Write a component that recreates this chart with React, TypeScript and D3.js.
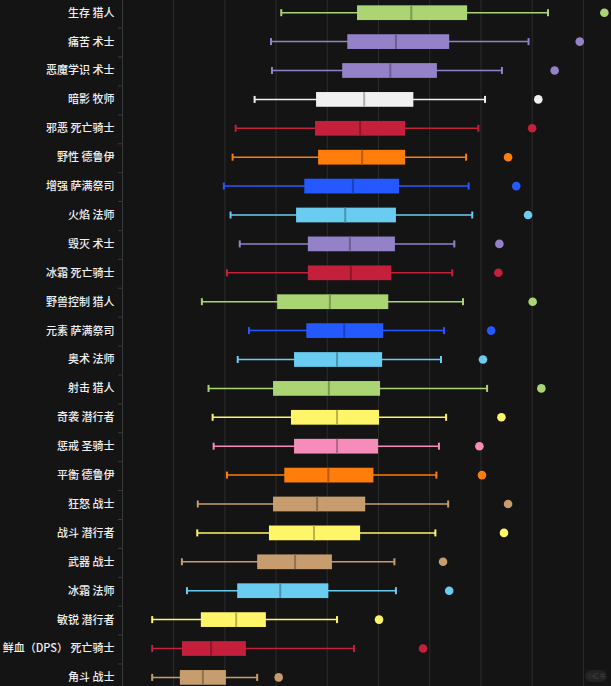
import React, { useEffect, useRef } from "react";
import * as d3 from "d3";

// 专精名称（从上到下）
const specs = [
  "生存 猎人", "痛苦 术士", "恶魔学识 术士", "暗影 牧师", "邪恶 死亡骑士", "野性 德鲁伊",
  "增强 萨满祭司", "火焰 法师", "毁灭 术士", "冰霜 死亡骑士", "野兽控制 猎人", "元素 萨满祭司",
  "奥术 法师", "射击 猎人", "奇袭 潜行者", "惩戒 圣骑士", "平衡 德鲁伊", "狂怒 战士",
  "战斗 潜行者", "武器 战士", "冰霜 法师", "敏锐 潜行者", "鲜血（DPS） 死亡骑士", "角斗 战士",
];

const classes = [
  "hunter", "warlock", "warlock", "priest", "dk", "druid",
  "shaman", "mage", "warlock", "dk", "hunter", "shaman",
  "mage", "hunter", "rogue", "paladin", "druid", "warrior",
  "rogue", "warrior", "mage", "rogue", "dk", "warrior",
];

const low = [31.0, 29.0, 29.2, 25.8, 22.1, 21.5, 19.8, 21.1, 22.9, 20.4, 15.5, 24.7, 22.5, 16.8, 17.6, 17.8, 20.4, 14.7, 14.6, 11.6, 12.6, 5.8, 5.8, 5.8];
const q1 = [45.8, 43.9, 42.9, 37.8, 37.6, 38.2, 35.5, 33.9, 36.2, 36.2, 30.2, 35.9, 33.5, 29.4, 32.9, 33.5, 31.6, 29.4, 28.6, 26.3, 22.4, 15.3, 11.6, 11.2];
const median = [56.4, 53.4, 52.3, 47.2, 46.4, 46.8, 45.0, 43.5, 44.4, 44.6, 40.5, 43.3, 41.9, 40.3, 41.9, 41.9, 40.2, 38.0, 37.4, 33.7, 30.8, 22.2, 17.3, 15.7];
const q3 = [67.3, 63.8, 61.4, 56.8, 55.2, 55.2, 54.0, 53.4, 53.2, 52.5, 51.9, 50.9, 50.7, 50.3, 50.1, 49.9, 49.0, 47.4, 46.4, 40.9, 40.2, 28.0, 24.1, 20.2];
const high = [83.1, 79.3, 74.1, 70.8, 69.5, 67.1, 67.6, 68.3, 64.8, 64.4, 66.5, 62.8, 62.2, 71.2, 63.2, 61.8, 61.3, 63.6, 61.1, 53.1, 53.4, 41.9, 45.2, 26.3];
const outlier = [94.1, 89.3, 84.4, 81.2, 80.0, 75.3, 76.9, 79.2, 73.6, 73.4, 80.1, 72.0, 70.4, 81.8, 74.0, 69.7, 70.2, 75.3, 74.5, 62.6, 63.8, 50.1, 58.7, 30.5];

const classColors: Record<string, string> = {
  hunter: "#abd473",
  warlock: "#9482c9",
  priest: "#f0f0f0",
  dk: "#c41f3b",
  druid: "#ff7d0a",
  shaman: "#2459ff",
  mage: "#69ccf0",
  rogue: "#fff569",
  paladin: "#f58cba",
  warrior: "#c79c6e",
};

const width = 611;
const height = 686;

export default function App() {
  const svgRef = useRef<SVGSVGElement | null>(null);

  useEffect(() => {
    if (!svgRef.current) return;
    document.body.style.margin = "0";
    document.body.style.background = "#141414";

    const svg = d3.select(svgRef.current);
    svg.selectAll("*").remove();
    svg.attr("width", width).attr("height", height).style("display", "block");

    svg.append("rect").attr("width", width).attr("height", height).attr("fill", "#141414");

    const x = d3.scaleLinear().domain([0, 95.4]).range([122.5, 611]);
    const y = d3.scaleBand<string>().domain(specs).range([-1.75, 691.85]);
    const boxH = y.bandwidth() * 0.51;

    // 网格线
    svg
      .append("g")
      .selectAll("line")
      .data(x.ticks(10).filter((t) => t > 0))
      .join("line")
      .attr("x1", (d) => x(d))
      .attr("x2", (d) => x(d))
      .attr("y1", 0)
      .attr("y2", height)
      .attr("stroke", "#2c2c2c")
      .attr("stroke-width", 1);

    // y轴
    const axis = svg.append("g");
    axis
      .append("line")
      .attr("x1", 122.5)
      .attr("x2", 122.5)
      .attr("y1", 0)
      .attr("y2", height)
      .attr("stroke", "#3a3a3a");
    axis
      .selectAll("line.tick")
      .data(specs)
      .join("line")
      .attr("class", "tick")
      .attr("x1", 118)
      .attr("x2", 122.5)
      .attr("y1", (d) => y(d)! + y.bandwidth() + 1)
      .attr("y2", (d) => y(d)! + y.bandwidth() + 1)
      .attr("stroke", "#3a3a3a");
    axis
      .selectAll("text")
      .data(specs)
      .join("text")
      .attr("x", 114.5)
      .attr("y", (d) => y(d)! + y.bandwidth() / 2)
      .attr("dy", "0.36em")
      .attr("text-anchor", "end")
      .attr("font-family", "'Noto Sans CJK SC', 'Noto Sans', sans-serif")
      .attr("font-size", 11)
      .attr("font-weight", 500)
      .attr("fill", "#f0f0f0")
      .text((d) => d);

    const rows = specs.map((s, i) => ({
      spec: s,
      color: classColors[classes[i]],
      low: low[i],
      q1: q1[i],
      median: median[i],
      q3: q3[i],
      high: high[i],
      outlier: outlier[i],
    }));

    const g = svg
      .append("g")
      .selectAll("g")
      .data(rows)
      .join("g")
      .attr("transform", (d) => `translate(0, ${y(d.spec)! + y.bandwidth() / 2})`);

    // 须线
    g.append("line")
      .attr("x1", (d) => x(d.low))
      .attr("x2", (d) => x(d.high))
      .attr("stroke", (d) => d.color)
      .attr("stroke-width", 1.5);
    g.append("line")
      .attr("x1", (d) => x(d.low))
      .attr("x2", (d) => x(d.low))
      .attr("y1", -3.5)
      .attr("y2", 3.5)
      .attr("stroke", (d) => d.color)
      .attr("stroke-width", 2);
    g.append("line")
      .attr("x1", (d) => x(d.high))
      .attr("x2", (d) => x(d.high))
      .attr("y1", -3.5)
      .attr("y2", 3.5)
      .attr("stroke", (d) => d.color)
      .attr("stroke-width", 2);

    // 箱体
    g.append("rect")
      .attr("x", (d) => x(d.q1))
      .attr("y", -boxH / 2)
      .attr("width", (d) => x(d.q3) - x(d.q1))
      .attr("height", boxH)
      .attr("fill", (d) => d.color);

    // 中位数
    g.append("line")
      .attr("x1", (d) => x(d.median))
      .attr("x2", (d) => x(d.median))
      .attr("y1", -boxH / 2)
      .attr("y2", boxH / 2)
      .attr("stroke", (d) => d3.color(d.color)!.darker(0.9).formatHex())
      .attr("stroke-width", 2);

    // 离群点
    g.append("circle")
      .attr("cx", (d) => x(d.outlier))
      .attr("cy", 0)
      .attr("r", 4.3)
      .attr("fill", (d) => d.color);

    // 水印
    const wm = svg.append("g").attr("transform", "translate(596, 676)");
    wm.append("rect")
      .attr("x", -11)
      .attr("y", -6)
      .attr("width", 22)
      .attr("height", 12)
      .attr("rx", 6)
      .attr("fill", "#222");
    wm.append("text")
      .attr("text-anchor", "middle")
      .attr("dy", "0.35em")
      .attr("font-size", 6)
      .attr("font-family", "'Noto Sans CJK SC', sans-serif")
      .attr("fill", "#444")
      .text("小红书");
  }, []);

  return <svg ref={svgRef} />;
}
